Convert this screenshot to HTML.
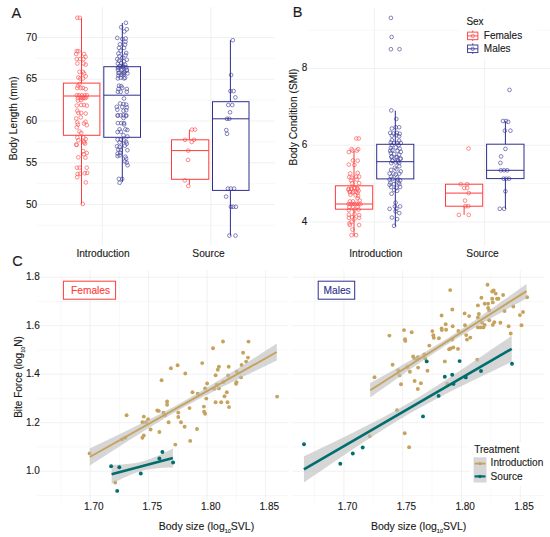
<!DOCTYPE html>
<html><head><meta charset="utf-8"><style>
html,body{margin:0;padding:0;background:#fff;}
svg{display:block;font-family:"Liberation Sans",sans-serif;}
text{stroke-width:0.12px;}
</style></head><body>
<svg width="550" height="537" viewBox="0 0 550 537">
<rect width="550" height="537" fill="#FFFFFF"/>
<line x1="36" y1="225.38" x2="275" y2="225.38" stroke="#F4F4F4" stroke-width="0.6"/>
<line x1="36" y1="183.62" x2="275" y2="183.62" stroke="#F4F4F4" stroke-width="0.6"/>
<line x1="36" y1="141.88" x2="275" y2="141.88" stroke="#F4F4F4" stroke-width="0.6"/>
<line x1="36" y1="100.12" x2="275" y2="100.12" stroke="#F4F4F4" stroke-width="0.6"/>
<line x1="36" y1="58.38" x2="275" y2="58.38" stroke="#F4F4F4" stroke-width="0.6"/>
<line x1="36" y1="204.5" x2="275" y2="204.5" stroke="#EEEEEE" stroke-width="0.8"/>
<line x1="36" y1="162.75" x2="275" y2="162.75" stroke="#EEEEEE" stroke-width="0.8"/>
<line x1="36" y1="121.0" x2="275" y2="121.0" stroke="#EEEEEE" stroke-width="0.8"/>
<line x1="36" y1="79.25" x2="275" y2="79.25" stroke="#EEEEEE" stroke-width="0.8"/>
<line x1="36" y1="37.5" x2="275" y2="37.5" stroke="#EEEEEE" stroke-width="0.8"/>
<line x1="102.4" y1="7" x2="102.4" y2="245.5" stroke="#EEEEEE" stroke-width="0.8"/>
<line x1="210.8" y1="7" x2="210.8" y2="245.5" stroke="#EEEEEE" stroke-width="0.8"/>
<text x="37.2" y="207.5" font-size="10" text-anchor="end" fill="#1A1A1A" stroke="#1A1A1A" >50</text>
<text x="37.2" y="165.75" font-size="10" text-anchor="end" fill="#1A1A1A" stroke="#1A1A1A" >55</text>
<text x="37.2" y="124.0" font-size="10" text-anchor="end" fill="#1A1A1A" stroke="#1A1A1A" >60</text>
<text x="37.2" y="82.25" font-size="10" text-anchor="end" fill="#1A1A1A" stroke="#1A1A1A" >65</text>
<text x="37.2" y="40.5" font-size="10" text-anchor="end" fill="#1A1A1A" stroke="#1A1A1A" >70</text>
<text x="103" y="256.8" font-size="10.2" text-anchor="middle" fill="#1A1A1A" stroke="#1A1A1A" >Introduction</text>
<text x="208.5" y="256.8" font-size="10.2" text-anchor="middle" fill="#1A1A1A" stroke="#1A1A1A" >Source</text>
<text x="0" y="0" font-size="10.2" fill="#1A1A1A" stroke="#1A1A1A" text-anchor="middle" transform="translate(16.8,118.3) rotate(-90)">Body Length (mm)</text>
<text x="11.5" y="17.6" font-size="14.5" text-anchor="start" fill="#1A1A1A" stroke="#1A1A1A" >A</text>
<line x1="81.5" y1="18.3" x2="81.5" y2="83.1" stroke="#FF3B3B" stroke-width="1"/>
<line x1="81.5" y1="135.3" x2="81.5" y2="204.2" stroke="#FF3B3B" stroke-width="1"/>
<rect x="63.4" y="83.1" width="36.5" height="52.2" fill="#FFFFFF" stroke="#FF3B3B" stroke-width="1"/>
<line x1="63.4" y1="96" x2="99.9" y2="96" stroke="#FF3B3B" stroke-width="1"/>
<line x1="122.3" y1="23" x2="122.3" y2="66.7" stroke="#2E2E8F" stroke-width="1"/>
<line x1="122.3" y1="137.3" x2="122.3" y2="182.2" stroke="#2E2E8F" stroke-width="1"/>
<rect x="103.8" y="66.7" width="36.7" height="70.6" fill="#FFFFFF" stroke="#2E2E8F" stroke-width="1"/>
<line x1="103.8" y1="95.2" x2="140.5" y2="95.2" stroke="#2E2E8F" stroke-width="1"/>
<line x1="189.4" y1="129.6" x2="189.4" y2="139.8" stroke="#FF3B3B" stroke-width="1"/>
<line x1="189.4" y1="179.3" x2="189.4" y2="184.5" stroke="#FF3B3B" stroke-width="1"/>
<rect x="171.5" y="139.8" width="37.3" height="39.5" fill="#FFFFFF" stroke="#FF3B3B" stroke-width="1"/>
<line x1="171.5" y1="150.6" x2="208.8" y2="150.6" stroke="#FF3B3B" stroke-width="1"/>
<line x1="230.4" y1="40.2" x2="230.4" y2="101.7" stroke="#2E2E8F" stroke-width="1"/>
<line x1="230.4" y1="190.4" x2="230.4" y2="235.6" stroke="#2E2E8F" stroke-width="1"/>
<rect x="212.5" y="101.7" width="36.5" height="88.7" fill="#FFFFFF" stroke="#2E2E8F" stroke-width="1"/>
<line x1="212.5" y1="118.8" x2="249" y2="118.8" stroke="#2E2E8F" stroke-width="1"/>
<g fill="none" stroke="#FF3B3B" stroke-width="0.68" opacity="0.85"><circle cx="77.3" cy="17.8" r="1.85"/><circle cx="79.8" cy="17.8" r="1.85"/><circle cx="76.8" cy="51.2" r="1.85"/><circle cx="78.4" cy="51.2" r="1.85"/><circle cx="76.2" cy="54" r="1.85"/><circle cx="84" cy="54" r="1.85"/><circle cx="85.5" cy="56.8" r="1.85"/><circle cx="76.8" cy="59" r="1.85"/><circle cx="80.1" cy="59" r="1.85"/><circle cx="83.5" cy="59" r="1.85"/><circle cx="77.3" cy="63.5" r="1.85"/><circle cx="83.5" cy="63.5" r="1.85"/><circle cx="85.7" cy="64.6" r="1.85"/><circle cx="79.5" cy="71.8" r="1.85"/><circle cx="82.9" cy="71.8" r="1.85"/><circle cx="84" cy="73.5" r="1.85"/><circle cx="78.4" cy="77.4" r="1.85"/><circle cx="85.7" cy="76.3" r="1.85"/><circle cx="80.1" cy="78.5" r="1.85"/><circle cx="82.9" cy="78.5" r="1.85"/><circle cx="77.9" cy="85.8" r="1.85"/><circle cx="79.5" cy="84.1" r="1.85"/><circle cx="77.3" cy="88" r="1.85"/><circle cx="80.7" cy="88" r="1.85"/><circle cx="85.7" cy="89.1" r="1.85"/><circle cx="82.9" cy="88" r="1.85"/><circle cx="77.9" cy="98.1" r="1.85"/><circle cx="82.3" cy="98.1" r="1.85"/><circle cx="85.1" cy="98.1" r="1.85"/><circle cx="76.8" cy="95.3" r="1.85"/><circle cx="79" cy="95.3" r="1.85"/><circle cx="81.8" cy="95.3" r="1.85"/><circle cx="84.6" cy="95.3" r="1.85"/><circle cx="86.8" cy="95.3" r="1.85"/><circle cx="80.7" cy="97.8" r="1.85"/><circle cx="83.5" cy="97.8" r="1.85"/><circle cx="86.2" cy="97.5" r="1.85"/><circle cx="77.9" cy="100.6" r="1.85"/><circle cx="81.2" cy="100" r="1.85"/><circle cx="76.8" cy="105.6" r="1.85"/><circle cx="81.2" cy="105" r="1.85"/><circle cx="84" cy="105" r="1.85"/><circle cx="86.8" cy="105.6" r="1.85"/><circle cx="77.3" cy="110.7" r="1.85"/><circle cx="78.4" cy="112.9" r="1.85"/><circle cx="81.2" cy="112.9" r="1.85"/><circle cx="85.7" cy="113.5" r="1.85"/><circle cx="76.2" cy="118.5" r="1.85"/><circle cx="80.7" cy="117.4" r="1.85"/><circle cx="77.3" cy="122.4" r="1.85"/><circle cx="77.9" cy="124.6" r="1.85"/><circle cx="84" cy="123.5" r="1.85"/><circle cx="85.5" cy="121.8" r="1.85"/><circle cx="86.8" cy="125.2" r="1.85"/><circle cx="76.8" cy="127.4" r="1.85"/><circle cx="79.5" cy="131.5" r="1.85"/><circle cx="81.2" cy="133" r="1.85"/><circle cx="77.3" cy="137.5" r="1.85"/><circle cx="83.5" cy="137.5" r="1.85"/><circle cx="85.7" cy="139.1" r="1.85"/><circle cx="78.4" cy="140.2" r="1.85"/><circle cx="84" cy="141.4" r="1.85"/><circle cx="76.2" cy="144.5" r="1.85"/><circle cx="85.1" cy="143.6" r="1.85"/><circle cx="76.7" cy="145" r="1.85"/><circle cx="84.1" cy="142.6" r="1.85"/><circle cx="83.2" cy="151.1" r="1.85"/><circle cx="86.7" cy="153" r="1.85"/><circle cx="84.1" cy="154.3" r="1.85"/><circle cx="78.3" cy="157.3" r="1.85"/><circle cx="85.4" cy="157.6" r="1.85"/><circle cx="77" cy="167.7" r="1.85"/><circle cx="79.6" cy="167.7" r="1.85"/><circle cx="86.7" cy="167.7" r="1.85"/><circle cx="77.6" cy="173.9" r="1.85"/><circle cx="80.2" cy="173.7" r="1.85"/><circle cx="84.8" cy="173.3" r="1.85"/><circle cx="87.1" cy="172.9" r="1.85"/><circle cx="77.2" cy="177.2" r="1.85"/><circle cx="85.8" cy="182.4" r="1.85"/><circle cx="82.8" cy="203.9" r="1.85"/></g>
<g fill="none" stroke="#FF3B3B" stroke-width="0.68" opacity="0.85"><circle cx="192" cy="129.6" r="1.85"/><circle cx="195" cy="129.6" r="1.85"/><circle cx="185.1" cy="139.8" r="1.85"/><circle cx="191.7" cy="142" r="1.85"/><circle cx="194" cy="139.8" r="1.85"/><circle cx="188.3" cy="150.6" r="1.85"/><circle cx="188" cy="159.9" r="1.85"/><circle cx="184.8" cy="180.4" r="1.85"/><circle cx="188.3" cy="186" r="1.85"/></g>
<g fill="none" stroke="#2E2E8F" stroke-width="0.68" opacity="0.85"><circle cx="125.9" cy="22.8" r="1.85"/><circle cx="121.2" cy="27.3" r="1.85"/><circle cx="126.8" cy="29.3" r="1.85"/><circle cx="124.3" cy="31.5" r="1.85"/><circle cx="117.3" cy="37.9" r="1.85"/><circle cx="125.7" cy="38.5" r="1.85"/><circle cx="122.3" cy="39" r="1.85"/><circle cx="125.5" cy="41.8" r="1.85"/><circle cx="125.1" cy="44.6" r="1.85"/><circle cx="119.9" cy="44.3" r="1.85"/><circle cx="119" cy="47.9" r="1.85"/><circle cx="124" cy="47.9" r="1.85"/><circle cx="120.7" cy="50.7" r="1.85"/><circle cx="126.2" cy="53" r="1.85"/><circle cx="118.4" cy="53.5" r="1.85"/><circle cx="125.5" cy="55.2" r="1.85"/><circle cx="119.5" cy="56.3" r="1.85"/><circle cx="122.3" cy="58" r="1.85"/><circle cx="117.3" cy="59.1" r="1.85"/><circle cx="126.8" cy="59.7" r="1.85"/><circle cx="119" cy="60.8" r="1.85"/><circle cx="124" cy="61.3" r="1.85"/><circle cx="121.2" cy="63" r="1.85"/><circle cx="117.9" cy="63.6" r="1.85"/><circle cx="125.1" cy="64.7" r="1.85"/><circle cx="122.9" cy="65.8" r="1.85"/><circle cx="119.5" cy="66.1" r="1.85"/><circle cx="117.9" cy="68" r="1.85"/><circle cx="123.5" cy="67.5" r="1.85"/><circle cx="126.8" cy="69.7" r="1.85"/><circle cx="121.2" cy="70.3" r="1.85"/><circle cx="124.6" cy="72" r="1.85"/><circle cx="118.4" cy="73.1" r="1.85"/><circle cx="122.9" cy="73.6" r="1.85"/><circle cx="118.4" cy="67.2" r="1.85"/><circle cx="122.9" cy="66.7" r="1.85"/><circle cx="126.2" cy="67.2" r="1.85"/><circle cx="117.9" cy="70" r="1.85"/><circle cx="122.3" cy="69.5" r="1.85"/><circle cx="126.8" cy="70.6" r="1.85"/><circle cx="119.5" cy="72.8" r="1.85"/><circle cx="124" cy="72.8" r="1.85"/><circle cx="127.4" cy="73.4" r="1.85"/><circle cx="118.4" cy="75.6" r="1.85"/><circle cx="121.2" cy="75" r="1.85"/><circle cx="124" cy="74.5" r="1.85"/><circle cx="117.9" cy="78.4" r="1.85"/><circle cx="120.7" cy="77.8" r="1.85"/><circle cx="124" cy="78.4" r="1.85"/><circle cx="125.1" cy="77.8" r="1.85"/><circle cx="119" cy="85.7" r="1.85"/><circle cx="121.2" cy="86.2" r="1.85"/><circle cx="118.4" cy="89" r="1.85"/><circle cx="122.3" cy="87.9" r="1.85"/><circle cx="126.8" cy="89" r="1.85"/><circle cx="117.9" cy="91.8" r="1.85"/><circle cx="120.7" cy="91.8" r="1.85"/><circle cx="126.8" cy="91.8" r="1.85"/><circle cx="124" cy="98.5" r="1.85"/><circle cx="120.1" cy="103.5" r="1.85"/><circle cx="123.5" cy="104.1" r="1.85"/><circle cx="126.2" cy="104.6" r="1.85"/><circle cx="116.8" cy="106.9" r="1.85"/><circle cx="122.3" cy="106.9" r="1.85"/><circle cx="126.8" cy="107.4" r="1.85"/><circle cx="117.3" cy="109.7" r="1.85"/><circle cx="123.5" cy="110.8" r="1.85"/><circle cx="126.2" cy="110.2" r="1.85"/><circle cx="117.9" cy="115.3" r="1.85"/><circle cx="120.7" cy="115.3" r="1.85"/><circle cx="123.5" cy="115.3" r="1.85"/><circle cx="126.2" cy="115.3" r="1.85"/><circle cx="123.5" cy="118" r="1.85"/><circle cx="117.9" cy="123.1" r="1.85"/><circle cx="121.2" cy="123.1" r="1.85"/><circle cx="124" cy="123.1" r="1.85"/><circle cx="117.6" cy="115.7" r="1.85"/><circle cx="126.1" cy="116" r="1.85"/><circle cx="124.1" cy="124.4" r="1.85"/><circle cx="119.6" cy="129.3" r="1.85"/><circle cx="125.4" cy="129.3" r="1.85"/><circle cx="127.4" cy="130" r="1.85"/><circle cx="117.6" cy="132" r="1.85"/><circle cx="120.9" cy="131.7" r="1.85"/><circle cx="123.5" cy="135.2" r="1.85"/><circle cx="127.4" cy="136.5" r="1.85"/><circle cx="117.6" cy="139.5" r="1.85"/><circle cx="120.9" cy="139.8" r="1.85"/><circle cx="124.1" cy="140.4" r="1.85"/><circle cx="119.6" cy="142.4" r="1.85"/><circle cx="126.1" cy="141.7" r="1.85"/><circle cx="126.7" cy="143.7" r="1.85"/><circle cx="117" cy="146.3" r="1.85"/><circle cx="119.6" cy="147" r="1.85"/><circle cx="124.8" cy="145.7" r="1.85"/><circle cx="118.3" cy="149.6" r="1.85"/><circle cx="120.9" cy="150" r="1.85"/><circle cx="127.4" cy="150.2" r="1.85"/><circle cx="117.6" cy="153.5" r="1.85"/><circle cx="120.2" cy="152.8" r="1.85"/><circle cx="117.6" cy="156.1" r="1.85"/><circle cx="119.6" cy="155.4" r="1.85"/><circle cx="125.4" cy="156.7" r="1.85"/><circle cx="126.1" cy="158.7" r="1.85"/><circle cx="124.8" cy="161.3" r="1.85"/><circle cx="126.7" cy="162.6" r="1.85"/><circle cx="127.6" cy="165.2" r="1.85"/><circle cx="118.9" cy="178.9" r="1.85"/><circle cx="122.2" cy="178.9" r="1.85"/><circle cx="119.6" cy="182.8" r="1.85"/></g>
<g fill="none" stroke="#2E2E8F" stroke-width="0.68" opacity="0.85"><circle cx="232.8" cy="40.2" r="1.85"/><circle cx="231.1" cy="75" r="1.85"/><circle cx="230.4" cy="91.1" r="1.85"/><circle cx="233.6" cy="91.1" r="1.85"/><circle cx="235.4" cy="97.4" r="1.85"/><circle cx="228.3" cy="105" r="1.85"/><circle cx="232.3" cy="105" r="1.85"/><circle cx="230" cy="112.3" r="1.85"/><circle cx="227" cy="118.8" r="1.85"/><circle cx="229.3" cy="118.8" r="1.85"/><circle cx="226.3" cy="130.1" r="1.85"/><circle cx="227" cy="133.8" r="1.85"/><circle cx="228" cy="188.6" r="1.85"/><circle cx="230.8" cy="188.6" r="1.85"/><circle cx="234.1" cy="188.6" r="1.85"/><circle cx="226.1" cy="196.6" r="1.85"/><circle cx="230.9" cy="206.8" r="1.85"/><circle cx="233.1" cy="206.8" r="1.85"/><circle cx="235.9" cy="206.8" r="1.85"/><circle cx="229.4" cy="235.6" r="1.85"/><circle cx="235.5" cy="235.6" r="1.85"/></g>
<line x1="308" y1="183.58" x2="550" y2="183.58" stroke="#F4F4F4" stroke-width="0.6"/>
<line x1="308" y1="106.92" x2="550" y2="106.92" stroke="#F4F4F4" stroke-width="0.6"/>
<line x1="308" y1="30.26" x2="550" y2="30.26" stroke="#F4F4F4" stroke-width="0.6"/>
<line x1="308" y1="221.91" x2="550" y2="221.91" stroke="#EEEEEE" stroke-width="0.8"/>
<line x1="308" y1="145.25" x2="550" y2="145.25" stroke="#EEEEEE" stroke-width="0.8"/>
<line x1="308" y1="68.59" x2="550" y2="68.59" stroke="#EEEEEE" stroke-width="0.8"/>
<line x1="374.4" y1="7.5" x2="374.4" y2="245.5" stroke="#EEEEEE" stroke-width="0.8"/>
<line x1="484.6" y1="7.5" x2="484.6" y2="245.5" stroke="#EEEEEE" stroke-width="0.8"/>
<text x="307.2" y="224.71" font-size="10" text-anchor="end" fill="#1A1A1A" stroke="#1A1A1A" >4</text>
<text x="307.2" y="148.05" font-size="10" text-anchor="end" fill="#1A1A1A" stroke="#1A1A1A" >6</text>
<text x="307.2" y="71.39" font-size="10" text-anchor="end" fill="#1A1A1A" stroke="#1A1A1A" >8</text>
<text x="375.8" y="256.8" font-size="10.2" text-anchor="middle" fill="#1A1A1A" stroke="#1A1A1A" >Introduction</text>
<text x="482.5" y="256.8" font-size="10.2" text-anchor="middle" fill="#1A1A1A" stroke="#1A1A1A" >Source</text>
<text x="0" y="0" font-size="10.2" fill="#1A1A1A" stroke="#1A1A1A" text-anchor="middle" transform="translate(296.9,117) rotate(-90)">Body Condition (SMI)</text>
<text x="292.8" y="16.8" font-size="14.5" text-anchor="start" fill="#1A1A1A" stroke="#1A1A1A" >B</text>
<line x1="354" y1="150.8" x2="354" y2="185.8" stroke="#FF3B3B" stroke-width="1"/>
<line x1="354" y1="209.2" x2="354" y2="236.3" stroke="#FF3B3B" stroke-width="1"/>
<rect x="335.4" y="185.8" width="37.3" height="23.4" fill="#FFFFFF" stroke="#FF3B3B" stroke-width="1"/>
<line x1="335.4" y1="204" x2="372.7" y2="204" stroke="#FF3B3B" stroke-width="1"/>
<line x1="395.3" y1="110.6" x2="395.3" y2="144.3" stroke="#2E2E8F" stroke-width="1"/>
<line x1="395.3" y1="178.9" x2="395.3" y2="226.4" stroke="#2E2E8F" stroke-width="1"/>
<rect x="376.7" y="144.3" width="37.1" height="34.6" fill="#FFFFFF" stroke="#2E2E8F" stroke-width="1"/>
<line x1="376.7" y1="161.7" x2="413.8" y2="161.7" stroke="#2E2E8F" stroke-width="1"/>
<line x1="464.1" y1="184.2" x2="464.1" y2="184.2" stroke="#FF3B3B" stroke-width="1"/>
<line x1="464.1" y1="206.2" x2="464.1" y2="214.9" stroke="#FF3B3B" stroke-width="1"/>
<rect x="445.5" y="184.2" width="37.2" height="22.0" fill="#FFFFFF" stroke="#FF3B3B" stroke-width="1"/>
<line x1="445.5" y1="193.1" x2="482.7" y2="193.1" stroke="#FF3B3B" stroke-width="1"/>
<line x1="505.4" y1="121.3" x2="505.4" y2="144.2" stroke="#2E2E8F" stroke-width="1"/>
<line x1="505.4" y1="178.6" x2="505.4" y2="208.8" stroke="#2E2E8F" stroke-width="1"/>
<rect x="486.6" y="144.2" width="37.4" height="34.4" fill="#FFFFFF" stroke="#2E2E8F" stroke-width="1"/>
<line x1="486.6" y1="170.3" x2="524" y2="170.3" stroke="#2E2E8F" stroke-width="1"/>
<g fill="none" stroke="#FF3B3B" stroke-width="0.68" opacity="0.85"><circle cx="356.3" cy="138.5" r="1.85"/><circle cx="358.8" cy="138.5" r="1.85"/><circle cx="348.8" cy="152" r="1.85"/><circle cx="351.6" cy="149.2" r="1.85"/><circle cx="352.6" cy="150.6" r="1.85"/><circle cx="356.8" cy="150.6" r="1.85"/><circle cx="358.2" cy="149.2" r="1.85"/><circle cx="353" cy="160.4" r="1.85"/><circle cx="357.7" cy="160.7" r="1.85"/><circle cx="348.8" cy="164.6" r="1.85"/><circle cx="354.4" cy="165" r="1.85"/><circle cx="350.2" cy="173.4" r="1.85"/><circle cx="357.7" cy="173" r="1.85"/><circle cx="349.3" cy="177.1" r="1.85"/><circle cx="351.6" cy="177.6" r="1.85"/><circle cx="356.3" cy="176.7" r="1.85"/><circle cx="359.1" cy="176.7" r="1.85"/><circle cx="351.2" cy="180.4" r="1.85"/><circle cx="356.8" cy="179.5" r="1.85"/><circle cx="352.1" cy="183.2" r="1.85"/><circle cx="359.1" cy="183.2" r="1.85"/><circle cx="348.8" cy="188.8" r="1.85"/><circle cx="351.2" cy="188.8" r="1.85"/><circle cx="354" cy="187.9" r="1.85"/><circle cx="357.2" cy="188.3" r="1.85"/><circle cx="358.6" cy="190.7" r="1.85"/><circle cx="349.8" cy="191.6" r="1.85"/><circle cx="352.6" cy="192.5" r="1.85"/><circle cx="355.8" cy="192" r="1.85"/><circle cx="348.4" cy="189.6" r="1.85"/><circle cx="351.5" cy="188.6" r="1.85"/><circle cx="355" cy="188.1" r="1.85"/><circle cx="357.6" cy="189.1" r="1.85"/><circle cx="349.9" cy="192.2" r="1.85"/><circle cx="353.5" cy="191.7" r="1.85"/><circle cx="357.6" cy="192.7" r="1.85"/><circle cx="350.4" cy="194.7" r="1.85"/><circle cx="355.6" cy="195.3" r="1.85"/><circle cx="358.1" cy="195.8" r="1.85"/><circle cx="357.6" cy="198.3" r="1.85"/><circle cx="359.7" cy="200.4" r="1.85"/><circle cx="349.9" cy="201.4" r="1.85"/><circle cx="353" cy="201.4" r="1.85"/><circle cx="348.6" cy="204" r="1.85"/><circle cx="350.6" cy="204" r="1.85"/><circle cx="352.6" cy="204" r="1.85"/><circle cx="354.6" cy="204" r="1.85"/><circle cx="356.6" cy="204" r="1.85"/><circle cx="358.6" cy="204" r="1.85"/><circle cx="360.4" cy="204" r="1.85"/><circle cx="349.4" cy="207" r="1.85"/><circle cx="353" cy="207" r="1.85"/><circle cx="357.6" cy="207" r="1.85"/><circle cx="348.9" cy="210.1" r="1.85"/><circle cx="354.5" cy="209.6" r="1.85"/><circle cx="358.6" cy="209.6" r="1.85"/><circle cx="348.9" cy="214.7" r="1.85"/><circle cx="354.5" cy="214.2" r="1.85"/><circle cx="359.1" cy="215.2" r="1.85"/><circle cx="348.9" cy="217.8" r="1.85"/><circle cx="352" cy="217.3" r="1.85"/><circle cx="354.5" cy="218.8" r="1.85"/><circle cx="359.1" cy="217.8" r="1.85"/><circle cx="351.5" cy="221.9" r="1.85"/><circle cx="349.4" cy="223.4" r="1.85"/><circle cx="349.9" cy="225" r="1.85"/><circle cx="359.1" cy="225" r="1.85"/><circle cx="352.5" cy="229.6" r="1.85"/><circle cx="351.5" cy="235.2" r="1.85"/><circle cx="356.1" cy="235.2" r="1.85"/></g>
<g fill="none" stroke="#FF3B3B" stroke-width="0.68" opacity="0.85"><circle cx="468.5" cy="148.5" r="1.85"/><circle cx="460.7" cy="184.2" r="1.85"/><circle cx="467.2" cy="184.2" r="1.85"/><circle cx="464.1" cy="188" r="1.85"/><circle cx="467.2" cy="188" r="1.85"/><circle cx="468.7" cy="193.1" r="1.85"/><circle cx="465" cy="200.6" r="1.85"/><circle cx="465.4" cy="206.2" r="1.85"/><circle cx="468.2" cy="206.2" r="1.85"/><circle cx="458.9" cy="214.9" r="1.85"/><circle cx="468.7" cy="214.9" r="1.85"/></g>
<g fill="none" stroke="#2E2E8F" stroke-width="0.68" opacity="0.85"><circle cx="390.9" cy="17.9" r="1.85"/><circle cx="391.6" cy="37" r="1.85"/><circle cx="390.9" cy="49.2" r="1.85"/><circle cx="399.5" cy="49.2" r="1.85"/><circle cx="391.3" cy="110.4" r="1.85"/><circle cx="396.3" cy="119" r="1.85"/><circle cx="391.9" cy="128.5" r="1.85"/><circle cx="395.8" cy="127.3" r="1.85"/><circle cx="399.1" cy="127.3" r="1.85"/><circle cx="390.2" cy="132.9" r="1.85"/><circle cx="393.5" cy="133.5" r="1.85"/><circle cx="396.9" cy="132.9" r="1.85"/><circle cx="399.7" cy="133.8" r="1.85"/><circle cx="391.9" cy="135.7" r="1.85"/><circle cx="396.3" cy="135.2" r="1.85"/><circle cx="399.1" cy="136.3" r="1.85"/><circle cx="391.9" cy="140.2" r="1.85"/><circle cx="399.1" cy="140.7" r="1.85"/><circle cx="390.8" cy="142.4" r="1.85"/><circle cx="394.1" cy="143" r="1.85"/><circle cx="397.5" cy="143" r="1.85"/><circle cx="400.8" cy="143" r="1.85"/><circle cx="391.9" cy="145.2" r="1.85"/><circle cx="398.6" cy="145.2" r="1.85"/><circle cx="390.8" cy="148" r="1.85"/><circle cx="395.8" cy="147.4" r="1.85"/><circle cx="399.7" cy="148.6" r="1.85"/><circle cx="390.2" cy="150.8" r="1.85"/><circle cx="392.4" cy="150.2" r="1.85"/><circle cx="397.5" cy="150.8" r="1.85"/><circle cx="400.8" cy="151.9" r="1.85"/><circle cx="390.8" cy="153" r="1.85"/><circle cx="394.1" cy="154.1" r="1.85"/><circle cx="399.1" cy="154.7" r="1.85"/><circle cx="391.3" cy="156.9" r="1.85"/><circle cx="396.3" cy="157.5" r="1.85"/><circle cx="400.2" cy="158.6" r="1.85"/><circle cx="392.4" cy="160.3" r="1.85"/><circle cx="397.5" cy="159.7" r="1.85"/><circle cx="391.3" cy="163.1" r="1.85"/><circle cx="395.8" cy="162.5" r="1.85"/><circle cx="399.1" cy="163.1" r="1.85"/><circle cx="391.9" cy="156.5" r="1.85"/><circle cx="397.1" cy="157.2" r="1.85"/><circle cx="400.8" cy="158.7" r="1.85"/><circle cx="392.6" cy="161" r="1.85"/><circle cx="397.8" cy="161.7" r="1.85"/><circle cx="399.3" cy="166.2" r="1.85"/><circle cx="394.9" cy="167.7" r="1.85"/><circle cx="391.1" cy="169.9" r="1.85"/><circle cx="396.4" cy="169.2" r="1.85"/><circle cx="400.8" cy="171.4" r="1.85"/><circle cx="389.6" cy="173.6" r="1.85"/><circle cx="393.4" cy="173.6" r="1.85"/><circle cx="395.6" cy="174.4" r="1.85"/><circle cx="399.3" cy="173.6" r="1.85"/><circle cx="391.1" cy="176.6" r="1.85"/><circle cx="397.1" cy="177.4" r="1.85"/><circle cx="389.6" cy="179.6" r="1.85"/><circle cx="392.6" cy="178.8" r="1.85"/><circle cx="397.8" cy="179.6" r="1.85"/><circle cx="400.1" cy="180.3" r="1.85"/><circle cx="390.4" cy="182.6" r="1.85"/><circle cx="398.6" cy="182.6" r="1.85"/><circle cx="389.6" cy="184.8" r="1.85"/><circle cx="394.1" cy="184.1" r="1.85"/><circle cx="399.3" cy="184.1" r="1.85"/><circle cx="391.1" cy="187" r="1.85"/><circle cx="396.4" cy="187.8" r="1.85"/><circle cx="400.1" cy="187" r="1.85"/><circle cx="394.1" cy="190" r="1.85"/><circle cx="397.1" cy="190.8" r="1.85"/><circle cx="391.6" cy="193.7" r="1.85"/><circle cx="395.6" cy="202.7" r="1.85"/><circle cx="394.9" cy="206.4" r="1.85"/><circle cx="400.1" cy="206.4" r="1.85"/><circle cx="389.6" cy="208.9" r="1.85"/><circle cx="396.4" cy="208.6" r="1.85"/><circle cx="395.6" cy="211.3" r="1.85"/><circle cx="399.3" cy="213.1" r="1.85"/><circle cx="391.9" cy="217.6" r="1.85"/><circle cx="397.1" cy="219.1" r="1.85"/><circle cx="394.1" cy="225.8" r="1.85"/></g>
<g fill="none" stroke="#2E2E8F" stroke-width="0.68" opacity="0.85"><circle cx="509.5" cy="89.9" r="1.85"/><circle cx="503" cy="121" r="1.85"/><circle cx="506" cy="121" r="1.85"/><circle cx="508.2" cy="121.9" r="1.85"/><circle cx="504.9" cy="130.7" r="1.85"/><circle cx="510.4" cy="130.7" r="1.85"/><circle cx="505.4" cy="148.9" r="1.85"/><circle cx="501.1" cy="156.4" r="1.85"/><circle cx="500.4" cy="162.9" r="1.85"/><circle cx="500.8" cy="170.3" r="1.85"/><circle cx="504.1" cy="170.3" r="1.85"/><circle cx="507.3" cy="170.3" r="1.85"/><circle cx="503.6" cy="178.7" r="1.85"/><circle cx="506.3" cy="178.7" r="1.85"/><circle cx="509.1" cy="178.7" r="1.85"/><circle cx="505.4" cy="191.3" r="1.85"/><circle cx="499.8" cy="208.8" r="1.85"/><circle cx="504.1" cy="208.8" r="1.85"/></g>
<rect x="459" y="9" width="78" height="50" fill="#FFFFFF"/>
<text x="466.4" y="24.6" font-size="10" text-anchor="start" fill="#1A1A1A" stroke="#1A1A1A" >Sex</text>
<line x1="472.75" y1="30.5" x2="472.75" y2="41.0" stroke="#FF3B3B" stroke-width="0.9"/>
<rect x="467.6" y="32.1" width="10.3" height="7.6" fill="#FFFFFF" stroke="#FF3B3B" stroke-width="0.9"/>
<line x1="467.6" y1="35.9" x2="477.90000000000003" y2="35.9" stroke="#FF3B3B" stroke-width="0.9"/>
<circle cx="472.75" cy="35.9" r="1.7" fill="none" stroke="#FF3B3B" stroke-width="0.7" opacity="0.85"/>
<line x1="472.75" y1="43.4" x2="472.75" y2="53.9" stroke="#2E2E8F" stroke-width="0.9"/>
<rect x="467.6" y="45.0" width="10.3" height="7.6" fill="#FFFFFF" stroke="#2E2E8F" stroke-width="0.9"/>
<line x1="467.6" y1="48.8" x2="477.90000000000003" y2="48.8" stroke="#2E2E8F" stroke-width="0.9"/>
<circle cx="472.75" cy="48.8" r="1.7" fill="none" stroke="#2E2E8F" stroke-width="0.7" opacity="0.85"/>
<text x="483.8" y="39.0" font-size="10" text-anchor="start" fill="#1A1A1A" stroke="#1A1A1A" >Females</text>
<text x="483.8" y="51.9" font-size="10" text-anchor="start" fill="#1A1A1A" stroke="#1A1A1A" >Males</text>
<line x1="37" y1="495.45" x2="288.5" y2="495.45" stroke="#F4F4F4" stroke-width="0.6"/>
<line x1="37" y1="446.95" x2="288.5" y2="446.95" stroke="#F4F4F4" stroke-width="0.6"/>
<line x1="37" y1="398.45" x2="288.5" y2="398.45" stroke="#F4F4F4" stroke-width="0.6"/>
<line x1="37" y1="349.95" x2="288.5" y2="349.95" stroke="#F4F4F4" stroke-width="0.6"/>
<line x1="37" y1="301.45" x2="288.5" y2="301.45" stroke="#F4F4F4" stroke-width="0.6"/>
<line x1="37" y1="471.2" x2="288.5" y2="471.2" stroke="#EEEEEE" stroke-width="0.8"/>
<line x1="37" y1="422.7" x2="288.5" y2="422.7" stroke="#EEEEEE" stroke-width="0.8"/>
<line x1="37" y1="374.2" x2="288.5" y2="374.2" stroke="#EEEEEE" stroke-width="0.8"/>
<line x1="37" y1="325.7" x2="288.5" y2="325.7" stroke="#EEEEEE" stroke-width="0.8"/>
<line x1="37" y1="277.2" x2="288.5" y2="277.2" stroke="#EEEEEE" stroke-width="0.8"/>
<line x1="60.85" y1="270.5" x2="60.85" y2="501.9" stroke="#F4F4F4" stroke-width="0.6"/>
<line x1="119.35" y1="270.5" x2="119.35" y2="501.9" stroke="#F4F4F4" stroke-width="0.6"/>
<line x1="177.85" y1="270.5" x2="177.85" y2="501.9" stroke="#F4F4F4" stroke-width="0.6"/>
<line x1="236.35" y1="270.5" x2="236.35" y2="501.9" stroke="#F4F4F4" stroke-width="0.6"/>
<line x1="90.1" y1="270.5" x2="90.1" y2="501.9" stroke="#EEEEEE" stroke-width="0.8"/>
<line x1="148.6" y1="270.5" x2="148.6" y2="501.9" stroke="#EEEEEE" stroke-width="0.8"/>
<line x1="207.1" y1="270.5" x2="207.1" y2="501.9" stroke="#EEEEEE" stroke-width="0.8"/>
<line x1="265.6" y1="270.5" x2="265.6" y2="501.9" stroke="#EEEEEE" stroke-width="0.8"/>
<text x="93.8" y="510.2" font-size="10" text-anchor="middle" fill="#1A1A1A" stroke="#1A1A1A" >1.70</text>
<text x="152.3" y="510.2" font-size="10" text-anchor="middle" fill="#1A1A1A" stroke="#1A1A1A" >1.75</text>
<text x="210.8" y="510.2" font-size="10" text-anchor="middle" fill="#1A1A1A" stroke="#1A1A1A" >1.80</text>
<text x="269.3" y="510.2" font-size="10" text-anchor="middle" fill="#1A1A1A" stroke="#1A1A1A" >1.85</text>
<line x1="292.4" y1="495.45" x2="543.3" y2="495.45" stroke="#F4F4F4" stroke-width="0.6"/>
<line x1="292.4" y1="446.95" x2="543.3" y2="446.95" stroke="#F4F4F4" stroke-width="0.6"/>
<line x1="292.4" y1="398.45" x2="543.3" y2="398.45" stroke="#F4F4F4" stroke-width="0.6"/>
<line x1="292.4" y1="349.95" x2="543.3" y2="349.95" stroke="#F4F4F4" stroke-width="0.6"/>
<line x1="292.4" y1="301.45" x2="543.3" y2="301.45" stroke="#F4F4F4" stroke-width="0.6"/>
<line x1="292.4" y1="471.2" x2="543.3" y2="471.2" stroke="#EEEEEE" stroke-width="0.8"/>
<line x1="292.4" y1="422.7" x2="543.3" y2="422.7" stroke="#EEEEEE" stroke-width="0.8"/>
<line x1="292.4" y1="374.2" x2="543.3" y2="374.2" stroke="#EEEEEE" stroke-width="0.8"/>
<line x1="292.4" y1="325.7" x2="543.3" y2="325.7" stroke="#EEEEEE" stroke-width="0.8"/>
<line x1="292.4" y1="277.2" x2="543.3" y2="277.2" stroke="#EEEEEE" stroke-width="0.8"/>
<line x1="314.5" y1="270.5" x2="314.5" y2="501.9" stroke="#F4F4F4" stroke-width="0.6"/>
<line x1="373.3" y1="270.5" x2="373.3" y2="501.9" stroke="#F4F4F4" stroke-width="0.6"/>
<line x1="432.1" y1="270.5" x2="432.1" y2="501.9" stroke="#F4F4F4" stroke-width="0.6"/>
<line x1="490.9" y1="270.5" x2="490.9" y2="501.9" stroke="#F4F4F4" stroke-width="0.6"/>
<line x1="343.9" y1="270.5" x2="343.9" y2="501.9" stroke="#EEEEEE" stroke-width="0.8"/>
<line x1="402.7" y1="270.5" x2="402.7" y2="501.9" stroke="#EEEEEE" stroke-width="0.8"/>
<line x1="461.5" y1="270.5" x2="461.5" y2="501.9" stroke="#EEEEEE" stroke-width="0.8"/>
<line x1="520.3" y1="270.5" x2="520.3" y2="501.9" stroke="#EEEEEE" stroke-width="0.8"/>
<text x="347.6" y="510.2" font-size="10" text-anchor="middle" fill="#1A1A1A" stroke="#1A1A1A" >1.70</text>
<text x="406.4" y="510.2" font-size="10" text-anchor="middle" fill="#1A1A1A" stroke="#1A1A1A" >1.75</text>
<text x="465.2" y="510.2" font-size="10" text-anchor="middle" fill="#1A1A1A" stroke="#1A1A1A" >1.80</text>
<text x="524.0" y="510.2" font-size="10" text-anchor="middle" fill="#1A1A1A" stroke="#1A1A1A" >1.85</text>
<text x="39.8" y="474.2" font-size="10" text-anchor="end" fill="#1A1A1A" stroke="#1A1A1A" >1.0</text>
<text x="39.8" y="425.7" font-size="10" text-anchor="end" fill="#1A1A1A" stroke="#1A1A1A" >1.2</text>
<text x="39.8" y="377.2" font-size="10" text-anchor="end" fill="#1A1A1A" stroke="#1A1A1A" >1.4</text>
<text x="39.8" y="328.7" font-size="10" text-anchor="end" fill="#1A1A1A" stroke="#1A1A1A" >1.6</text>
<text x="39.8" y="280.2" font-size="10" text-anchor="end" fill="#1A1A1A" stroke="#1A1A1A" >1.8</text>
<text x="12.2" y="265.6" font-size="14.5" text-anchor="start" fill="#1A1A1A" stroke="#1A1A1A" >C</text>
<text x="0" y="0" font-size="10" fill="#1A1A1A" stroke="#1A1A1A" text-anchor="middle" transform="translate(22.4,377) rotate(-90)">Bite Force (log<tspan font-size="5.5" dy="2.2">10</tspan><tspan dy="-2.2">N)</tspan></text>
<text x="206.5" y="530.3" font-size="10.5" fill="#1A1A1A" stroke="#1A1A1A" text-anchor="middle">Body size (log<tspan font-size="5.5" dy="2.2">10</tspan><tspan dy="-2.2">SVL)</tspan></text>
<text x="418.6" y="530.3" font-size="10.5" fill="#1A1A1A" stroke="#1A1A1A" text-anchor="middle">Body size (log<tspan font-size="5.5" dy="2.2">10</tspan><tspan dy="-2.2">SVL)</tspan></text>
<rect x="63.4" y="281.2" width="52.2" height="18" fill="#FFFFFF" stroke="#FF3B3B" stroke-width="1"/>
<text x="90.6" y="294.2" font-size="10.2" text-anchor="middle" fill="#FF3B3B" stroke="#FF3B3B" >Females</text>
<rect x="318.2" y="281.2" width="36.5" height="18" fill="#FFFFFF" stroke="#2E2E8F" stroke-width="1"/>
<text x="337.1" y="294.2" font-size="10.2" text-anchor="middle" fill="#2E2E8F" stroke="#2E2E8F" >Males</text>
<g fill="#C6A35C" opacity="1"><circle cx="89.6" cy="453.4" r="1.95"/><circle cx="126.6" cy="415.2" r="1.95"/><circle cx="143.8" cy="416.6" r="1.95"/><circle cx="142.4" cy="422.3" r="1.95"/><circle cx="145.9" cy="422.3" r="1.95"/><circle cx="148.1" cy="419.3" r="1.95"/><circle cx="150.6" cy="429.5" r="1.95"/><circle cx="142.4" cy="437.7" r="1.95"/><circle cx="143.8" cy="435.4" r="1.95"/><circle cx="122" cy="439.5" r="1.95"/><circle cx="125.4" cy="437.7" r="1.95"/><circle cx="157.3" cy="410.5" r="1.95"/><circle cx="158.8" cy="410.9" r="1.95"/><circle cx="159.4" cy="432" r="1.95"/><circle cx="115.2" cy="482.5" r="1.95"/><circle cx="168.6" cy="422.2" r="1.95"/><circle cx="181" cy="422.2" r="1.95"/><circle cx="184.6" cy="426.7" r="1.95"/><circle cx="197" cy="429" r="1.95"/><circle cx="190.2" cy="440.9" r="1.95"/><circle cx="175.3" cy="444.6" r="1.95"/><circle cx="223" cy="341.5" r="1.95"/><circle cx="213" cy="348.2" r="1.95"/><circle cx="202.2" cy="363.1" r="1.95"/><circle cx="170.9" cy="368.3" r="1.95"/><circle cx="177.6" cy="365.3" r="1.95"/><circle cx="185.3" cy="373.5" r="1.95"/><circle cx="218.9" cy="366.8" r="1.95"/><circle cx="217.8" cy="369.8" r="1.95"/><circle cx="228.7" cy="366.8" r="1.95"/><circle cx="215.6" cy="375.3" r="1.95"/><circle cx="228.2" cy="375.5" r="1.95"/><circle cx="161.6" cy="380.2" r="1.95"/><circle cx="207.1" cy="383.5" r="1.95"/><circle cx="205.1" cy="388.4" r="1.95"/><circle cx="214.1" cy="388.9" r="1.95"/><circle cx="218.9" cy="388.4" r="1.95"/><circle cx="192.5" cy="392.2" r="1.95"/><circle cx="197.7" cy="393.7" r="1.95"/><circle cx="226.8" cy="392.2" r="1.95"/><circle cx="224.5" cy="396.3" r="1.95"/><circle cx="206.3" cy="398.6" r="1.95"/><circle cx="215.6" cy="402.3" r="1.95"/><circle cx="221.2" cy="402.3" r="1.95"/><circle cx="227.5" cy="402.3" r="1.95"/><circle cx="229" cy="407.1" r="1.95"/><circle cx="167.1" cy="401.5" r="1.95"/><circle cx="167.1" cy="404.8" r="1.95"/><circle cx="163.4" cy="412.7" r="1.95"/><circle cx="164.9" cy="415.3" r="1.95"/><circle cx="189.5" cy="408.1" r="1.95"/><circle cx="203.9" cy="406.6" r="1.95"/><circle cx="204.1" cy="411.8" r="1.95"/><circle cx="205.1" cy="413.8" r="1.95"/><circle cx="178.3" cy="412.6" r="1.95"/><circle cx="178.3" cy="417" r="1.95"/><circle cx="248.5" cy="341.6" r="1.95"/><circle cx="243.1" cy="352.7" r="1.95"/><circle cx="248" cy="357.6" r="1.95"/><circle cx="246.1" cy="361.6" r="1.95"/><circle cx="241.6" cy="365" r="1.95"/><circle cx="236.8" cy="371.7" r="1.95"/><circle cx="241" cy="377.4" r="1.95"/><circle cx="223.4" cy="381.9" r="1.95"/><circle cx="216.7" cy="384.8" r="1.95"/><circle cx="236.5" cy="382.2" r="1.95"/><circle cx="236.1" cy="383.7" r="1.95"/><circle cx="277.1" cy="396.6" r="1.95"/></g>
<g fill="#C6A35C" opacity="1"><circle cx="369.7" cy="436.3" r="1.95"/><circle cx="397" cy="410.3" r="1.95"/><circle cx="405.3" cy="340.9" r="1.95"/><circle cx="429.3" cy="345.6" r="1.95"/><circle cx="449.1" cy="349.3" r="1.95"/><circle cx="392.6" cy="364.8" r="1.95"/><circle cx="413.1" cy="356.4" r="1.95"/><circle cx="414.4" cy="358.6" r="1.95"/><circle cx="417.8" cy="357.1" r="1.95"/><circle cx="424.3" cy="354.5" r="1.95"/><circle cx="425.2" cy="358.6" r="1.95"/><circle cx="444.8" cy="361.4" r="1.95"/><circle cx="398.2" cy="370.2" r="1.95"/><circle cx="409.9" cy="371.7" r="1.95"/><circle cx="418.1" cy="367.6" r="1.95"/><circle cx="427.5" cy="370.7" r="1.95"/><circle cx="399.5" cy="375.4" r="1.95"/><circle cx="407.5" cy="367" r="1.95"/><circle cx="374.5" cy="377.3" r="1.95"/><circle cx="401" cy="384.3" r="1.95"/><circle cx="414.6" cy="381" r="1.95"/><circle cx="420.9" cy="383.2" r="1.95"/><circle cx="417.8" cy="389" r="1.95"/><circle cx="404.7" cy="433.2" r="1.95"/><circle cx="487.5" cy="284.7" r="1.95"/><circle cx="450.2" cy="290.1" r="1.95"/><circle cx="493.7" cy="290.5" r="1.95"/><circle cx="495.7" cy="293.6" r="1.95"/><circle cx="492.2" cy="291.5" r="1.95"/><circle cx="503.1" cy="295" r="1.95"/><circle cx="527.1" cy="297.2" r="1.95"/><circle cx="481.4" cy="297.7" r="1.95"/><circle cx="492.2" cy="298.7" r="1.95"/><circle cx="497" cy="298.7" r="1.95"/><circle cx="498.4" cy="298.7" r="1.95"/><circle cx="484.7" cy="303.8" r="1.95"/><circle cx="488.1" cy="303.8" r="1.95"/><circle cx="492.8" cy="302.4" r="1.95"/><circle cx="477.9" cy="305.4" r="1.95"/><circle cx="488.1" cy="307.9" r="1.95"/><circle cx="489.2" cy="310.4" r="1.95"/><circle cx="513.3" cy="306.5" r="1.95"/><circle cx="452.3" cy="309.5" r="1.95"/><circle cx="441.6" cy="315.5" r="1.95"/><circle cx="464.6" cy="313.4" r="1.95"/><circle cx="469.1" cy="316.1" r="1.95"/><circle cx="478.9" cy="314" r="1.95"/><circle cx="477.9" cy="317.5" r="1.95"/><circle cx="504.5" cy="311" r="1.95"/><circle cx="523" cy="312" r="1.95"/><circle cx="519.9" cy="315.1" r="1.95"/><circle cx="489.2" cy="320.2" r="1.95"/><circle cx="482" cy="322.8" r="1.95"/><circle cx="484.7" cy="324.9" r="1.95"/><circle cx="494.3" cy="322.2" r="1.95"/><circle cx="492.8" cy="324.9" r="1.95"/><circle cx="500.4" cy="322.8" r="1.95"/><circle cx="477.9" cy="327.4" r="1.95"/><circle cx="480.6" cy="327.4" r="1.95"/><circle cx="483.4" cy="327.4" r="1.95"/><circle cx="465" cy="325.3" r="1.95"/><circle cx="445.7" cy="324.3" r="1.95"/><circle cx="452.7" cy="326.3" r="1.95"/><circle cx="441.6" cy="328.4" r="1.95"/><circle cx="446.1" cy="329.8" r="1.95"/><circle cx="458.4" cy="331" r="1.95"/><circle cx="508.6" cy="326.3" r="1.95"/><circle cx="521.5" cy="325.3" r="1.95"/><circle cx="510.7" cy="333.5" r="1.95"/><circle cx="466.2" cy="335.1" r="1.95"/><circle cx="470.3" cy="337.6" r="1.95"/><circle cx="467" cy="339.6" r="1.95"/><circle cx="452.3" cy="339.6" r="1.95"/><circle cx="450.7" cy="348.5" r="1.95"/><circle cx="453.3" cy="347.4" r="1.95"/><circle cx="458" cy="348.9" r="1.95"/><circle cx="477.3" cy="359.7" r="1.95"/><circle cx="441.8" cy="330.1" r="1.95"/><circle cx="432.3" cy="331.1" r="1.95"/><circle cx="433.3" cy="335.3" r="1.95"/><circle cx="433.8" cy="337.8" r="1.95"/><circle cx="438.9" cy="338.3" r="1.95"/><circle cx="404" cy="330.1" r="1.95"/><circle cx="411.7" cy="332.3" r="1.95"/><circle cx="405" cy="339.3" r="1.95"/><circle cx="389.4" cy="335.6" r="1.95"/><circle cx="417" cy="359.1" r="1.95"/><circle cx="409.1" cy="447.3" r="1.95"/><circle cx="447.2" cy="383.8" r="1.95"/></g>
<polygon points="89.8,448.6 97.59,444.83 105.38,441.06 113.17,437.27 120.97,433.47 128.76,429.65 136.55,425.81 144.34,421.94 152.13,418.02 159.93,414.04 167.72,409.98 175.51,405.8 183.3,401.5 191.09,397.05 198.88,392.48 206.68,387.79 214.47,383.02 222.26,378.19 230.05,373.31 237.84,368.4 245.63,363.47 253.43,358.52 261.22,353.56 269.01,348.58 276.8,343.6 276.8,360.4 269.01,364.17 261.22,367.94 253.43,371.73 245.63,375.53 237.84,379.35 230.05,383.19 222.26,387.06 214.47,390.98 206.68,394.96 198.88,399.02 191.09,403.2 183.3,407.5 175.51,411.95 167.72,416.52 159.93,421.21 152.13,425.98 144.34,430.81 136.55,435.69 128.76,440.6 120.97,445.53 113.17,450.48 105.38,455.44 97.59,460.42 89.8,465.4" fill="#BDBDBD" opacity="0.62"/>
<line x1="89.8" y1="457" x2="276.8" y2="352.0" stroke="#C6A35C" stroke-width="1.9"/>
<polygon points="111.6,464.9 114.15,464.81 116.71,464.71 119.26,464.58 121.82,464.44 124.37,464.27 126.92,464.06 129.48,463.82 132.03,463.52 134.59,463.15 137.14,462.71 139.7,462.18 142.25,461.55 144.8,460.82 147.36,459.99 149.91,459.08 152.47,458.08 155.02,457.02 157.57,455.91 160.13,454.76 162.68,453.57 165.24,452.36 167.79,451.12 170.35,449.87 172.9,448.6 172.9,467.4 170.35,467.49 167.79,467.59 165.24,467.72 162.68,467.86 160.13,468.03 157.57,468.24 155.02,468.48 152.47,468.78 149.91,469.15 147.36,469.59 144.8,470.12 142.25,470.75 139.7,471.48 137.14,472.31 134.59,473.22 132.03,474.22 129.48,475.28 126.92,476.39 124.37,477.54 121.82,478.73 119.26,479.94 116.71,481.18 114.15,482.43 111.6,483.7" fill="#BDBDBD" opacity="0.62"/>
<line x1="111.6" y1="474.3" x2="172.9" y2="458" stroke="#006E6E" stroke-width="2.6"/>
<polygon points="303.9,456.35 312.56,452.21 321.22,448.06 329.88,443.88 338.53,439.68 347.19,435.45 355.85,431.17 364.51,426.84 373.17,422.43 381.82,417.93 390.48,413.31 399.14,408.54 407.8,403.6 416.46,398.49 425.12,393.21 433.77,387.78 442.43,382.23 451.09,376.59 459.75,370.87 468.41,365.1 477.07,359.28 485.73,353.43 494.38,347.56 503.04,341.66 511.7,335.75 511.7,361.85 503.04,365.99 494.38,370.14 485.73,374.32 477.07,378.52 468.41,382.75 459.75,387.03 451.09,391.36 442.43,395.77 433.77,400.27 425.12,404.89 416.46,409.66 407.8,414.6 399.14,419.71 390.48,424.99 381.82,430.42 373.17,435.97 364.51,441.61 355.85,447.33 347.19,453.1 338.53,458.92 329.88,464.77 321.22,470.64 312.56,476.54 303.9,482.45" fill="#BDBDBD" opacity="0.62"/>
<line x1="303.9" y1="469.4" x2="511.7" y2="348.8" stroke="#006E6E" stroke-width="2.6"/>
<polygon points="370.2,383.1 376.72,379.46 383.23,375.81 389.75,372.15 396.27,368.47 402.78,364.78 409.3,361.06 415.82,357.31 422.33,353.52 428.85,349.68 435.37,345.77 441.88,341.78 448.4,337.7 454.92,333.52 461.43,329.24 467.95,324.88 474.47,320.46 480.98,315.98 487.5,311.46 494.02,306.91 500.53,302.34 507.05,297.75 513.57,293.14 520.08,288.53 526.6,283.9 526.6,298.3 520.08,301.94 513.57,305.59 507.05,309.25 500.53,312.93 494.02,316.62 487.5,320.34 480.98,324.09 474.47,327.88 467.95,331.72 461.43,335.63 454.92,339.62 448.4,343.7 441.88,347.88 435.37,352.16 428.85,356.52 422.33,360.94 415.82,365.42 409.3,369.94 402.78,374.49 396.27,379.06 389.75,383.65 383.23,388.26 376.72,392.87 370.2,397.5" fill="#BDBDBD" opacity="0.62"/>
<line x1="370.2" y1="390.3" x2="526.6" y2="291.1" stroke="#C6A35C" stroke-width="1.9"/>
<g fill="#006E6E" opacity="1"><circle cx="111.1" cy="466.3" r="1.95"/><circle cx="119.3" cy="467.3" r="1.95"/><circle cx="140.8" cy="473.5" r="1.95"/><circle cx="117.2" cy="490.9" r="1.95"/><circle cx="159.4" cy="458.5" r="1.95"/><circle cx="162.4" cy="452" r="1.95"/><circle cx="173.1" cy="462.5" r="1.95"/></g>
<g fill="#006E6E" opacity="1"><circle cx="304" cy="444.2" r="1.95"/><circle cx="340.3" cy="463.7" r="1.95"/><circle cx="352.8" cy="453.5" r="1.95"/><circle cx="362.7" cy="447.5" r="1.95"/><circle cx="426.7" cy="361.4" r="1.95"/><circle cx="444.8" cy="376.7" r="1.95"/><circle cx="438.6" cy="395.9" r="1.95"/><circle cx="423" cy="416.4" r="1.95"/><circle cx="459.6" cy="361.1" r="1.95"/><circle cx="452.2" cy="374.8" r="1.95"/><circle cx="465.8" cy="377.4" r="1.95"/><circle cx="453.5" cy="383.9" r="1.95"/><circle cx="512" cy="363.7" r="1.95"/><circle cx="481" cy="371" r="1.95"/></g>
<rect x="470" y="442" width="78" height="44" fill="#FFFFFF"/>
<text x="474.2" y="453.0" font-size="10" text-anchor="start" fill="#1A1A1A" stroke="#1A1A1A" >Treatment</text>
<rect x="473.6" y="457.3" width="12.9" height="25.2" fill="#BDBDBD" opacity="0.62"/>
<line x1="474.6" y1="463.6" x2="485.5" y2="463.6" stroke="#C6A35C" stroke-width="1.8"/>
<circle cx="480" cy="463.6" r="1.6" fill="#C6A35C"/>
<line x1="474.6" y1="476.4" x2="485.5" y2="476.4" stroke="#006E6E" stroke-width="2.2"/>
<circle cx="480" cy="476.4" r="1.6" fill="#006E6E"/>
<text x="490.6" y="466.3" font-size="10.1" text-anchor="start" fill="#1A1A1A" stroke="#1A1A1A" >Introduction</text>
<text x="490.6" y="479.5" font-size="10.1" text-anchor="start" fill="#1A1A1A" stroke="#1A1A1A" >Source</text>
</svg></body></html>
